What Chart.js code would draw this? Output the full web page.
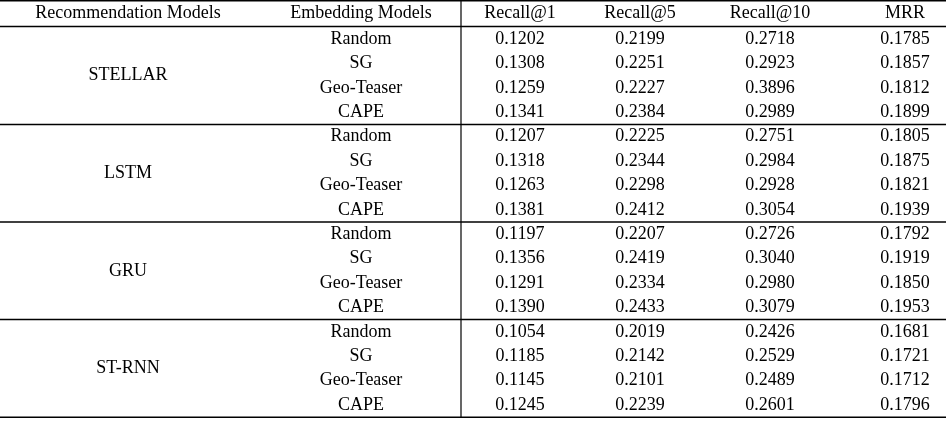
<!DOCTYPE html>
<html><head><meta charset="utf-8">
<script src="https://cdn.jsdelivr.net/npm/chart.js@4/dist/chart.umd.min.js"></script>
<style>html,body{margin:0;padding:0;background:#fff}</style>
</head><body>
<canvas id="c" width="946" height="422"></canvas>
<script>
const headers = ["Recommendation Models","Embedding Models","Recall@1","Recall@5","Recall@10","MRR"];
const models = ["STELLAR","LSTM","GRU","ST-RNN"];
const embeddings = ["Random","SG","Geo-Teaser","CAPE"];
const recall1 = [0.1202,0.1308,0.1259,0.1341, 0.1207,0.1318,0.1263,0.1381, 0.1197,0.1356,0.1291,0.1390, 0.1054,0.1185,0.1145,0.1245];
const recall5 = [0.2199,0.2251,0.2227,0.2384, 0.2225,0.2344,0.2298,0.2412, 0.2207,0.2419,0.2334,0.2433, 0.2019,0.2142,0.2101,0.2239];
const recall10 = [0.2718,0.2923,0.3896,0.2989, 0.2751,0.2984,0.2928,0.3054, 0.2726,0.3040,0.2980,0.3079, 0.2426,0.2529,0.2489,0.2601];
const mrr = [0.1785,0.1857,0.1812,0.1899, 0.1805,0.1875,0.1821,0.1939, 0.1792,0.1919,0.1850,0.1953, 0.1681,0.1721,0.1712,0.1796];

// layout (scale units == pixels)
const colX = [128,361,520,640,770,905];
const headerY = 13, firstRowY = 39, rowStep = 24.4, groupGap = 0;
const sepX = 461;

const tablePlugin = {
  id:'table',
  afterDraw(chart){
    const ctx = chart.ctx, xs = chart.scales.x, ys = chart.scales.y;
    const X = v=>xs.getPixelForValue(v), Y = v=>ys.getPixelForValue(v);
    ctx.save();
    ctx.fillStyle='#000'; ctx.strokeStyle='#000';
    ctx.font='18px "Liberation Serif", "DejaVu Serif", serif';
    ctx.textAlign='center'; ctx.textBaseline='middle';
    headers.forEach((h,i)=>ctx.fillText(h,X(colX[i]),Y(headerY)));
    const cols=[recall1,recall5,recall10,mrr];
    for(let r=0;r<16;r++){
      const y=Y(firstRowY+r*rowStep);
      ctx.fillText(embeddings[r%4],X(colX[1]),y);
      cols.forEach((a,j)=>ctx.fillText(a[r].toFixed(4),X(colX[2+j]),y));
    }
    models.forEach((m,g)=>{
      ctx.fillText(m,X(colX[0]),Y(firstRowY+(g*4+1.5)*rowStep));
    });
    const hline=(yv,w)=>{ctx.lineWidth=w;ctx.beginPath();ctx.moveTo(X(0),Y(yv));ctx.lineTo(X(946),Y(yv));ctx.stroke();};
    hline(0.8,1.5);
    hline(26.5,1.5);
    for(let g=1;g<4;g++) hline(firstRowY+(g*4-0.5)*rowStep,1.5);
    hline(firstRowY+15.5*rowStep,1.5);
    ctx.lineWidth=1.2;ctx.beginPath();ctx.moveTo(X(sepX),Y(0.8));ctx.lineTo(X(sepX),Y(firstRowY+15.5*rowStep));ctx.stroke();
    ctx.restore();
  }
};

new Chart(document.getElementById('c'),{
  type:'scatter',
  data:{datasets:[{data:[]}]},
  options:{
    responsive:false, animation:false,
    layout:{padding:0},
    plugins:{legend:{display:false},tooltip:{enabled:false}},
    scales:{
      x:{type:'linear',min:0,max:946,display:false},
      y:{type:'linear',min:0,max:422,reverse:true,display:false}
    }
  },
  plugins:[tablePlugin]
});
</script>
</body></html>
